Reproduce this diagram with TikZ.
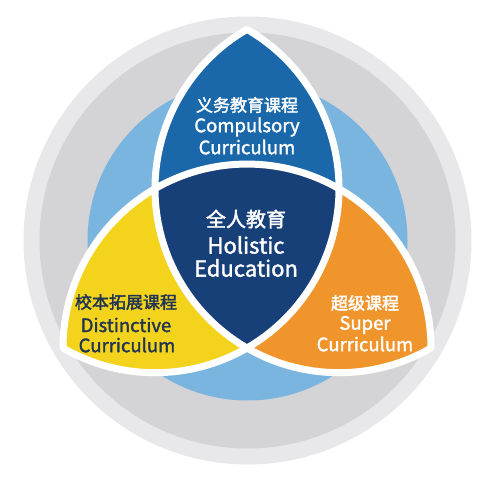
\documentclass[tikz,border=0pt]{standalone}
\usepackage{fontspec}
\usetikzlibrary{calc}
\setmainfont{Noto Sans CJK SC}
\newfontfamily\enfont[FakeBold=1.6]{Noto Sans CJK SC}
\newfontfamily\zhfont[FakeBold=2.2]{Noto Sans CJK SC}
\definecolor{outergray}{HTML}{E8E8EA}
\definecolor{midgray}{HTML}{D4D4D6}
\definecolor{ringblue}{HTML}{79B5DF}
\definecolor{petalblue}{HTML}{1A68AA}
\definecolor{navy}{HTML}{173F78}
\definecolor{petalyellow}{HTML}{F3D31B}
\definecolor{petalorange}{HTML}{F0952C}
\definecolor{darktext}{HTML}{213452}
\begin{document}
\begin{tikzpicture}[x=1pt,y=1pt,
  whiteline/.style={white,line width=7pt,line join=round,line cap=round},
  zh/.style={inner sep=0pt,font=\fontsize{17}{17}\selectfont\zhfont},
  en/.style={inner sep=0pt,font=\fontsize{18.5}{18.5}\selectfont\enfont},
  zhbig/.style={inner sep=0pt,font=\fontsize{20}{20}\selectfont\zhfont},
  enbig/.style={inner sep=0pt,font=\fontsize{22}{22}\selectfont\enfont}]
\def\rr{184}
\useasboundingbox (0,0) rectangle (500,479);
\fill[white] (0,0) rectangle (500,479);
% background rings
\coordinate (O) at (247.5,238.5);
\fill[outergray] (O) circle (224);
\fill[midgray] (O) circle (208);
\fill[ringblue] (O) circle (160);
% circle centres
\coordinate (A) at (155.0,290.3);
\coordinate (B) at (339.0,290.3);
\coordinate (C) at (247.0,131.0);
\coordinate (T) at ($(B)+(120:\rr)$);
% lenses
\begin{scope}\clip (A) circle (\rr); \fill[petalblue] (B) circle (\rr);\end{scope}
\begin{scope}\clip (A) circle (\rr); \fill[petalyellow] (C) circle (\rr);\end{scope}
\begin{scope}\clip (B) circle (\rr); \fill[petalorange] (C) circle (\rr);\end{scope}
\begin{scope}\clip (A) circle (\rr); \clip (B) circle (\rr); \fill[navy] (C) circle (\rr);\end{scope}
% white outlines
\draw[whiteline] (T) arc[start angle=120,end angle=180,radius=\rr]
  arc[start angle=120,end angle=180,radius=\rr]
  arc[start angle=240,end angle=300,radius=\rr]
  arc[start angle=240,end angle=300,radius=\rr]
  arc[start angle=0,end angle=60,radius=\rr]
  arc[start angle=0,end angle=60,radius=\rr] -- cycle;
\draw[whiteline] (B) arc[start angle=60,end angle=120,radius=\rr];
\draw[whiteline] (C) arc[start angle=300,end angle=360,radius=\rr];
\draw[whiteline] (A) arc[start angle=180,end angle=240,radius=\rr];
% texts
\node[zh,white] (t1) at (247,374) {义务教育课程};
\node[en,white] (t2) at (247,352) {Compulsory};
\node[en,white] (t3) at (247,332) {Curriculum};
\node[zhbig,white] (c1) at (246,260) {全人教育};
\node[enbig,white] (c2) at (246,234) {Holistic};
\node[enbig,white] (c3) at (246,211) {Education};
\node[zh,darktext] (y1) at (126,177) {校本拓展课程};
\node[en,darktext] (y2) at (126,154) {Distinctive};
\node[en,darktext] (y3) at (127,134) {Curriculum};
\node[zh,white] (o1) at (365,176) {超级课程};
\node[en,white] (o2) at (365,154) {Super};
\node[en,white] (o3) at (365,135) {Curriculum};
\end{tikzpicture}
\end{document}
